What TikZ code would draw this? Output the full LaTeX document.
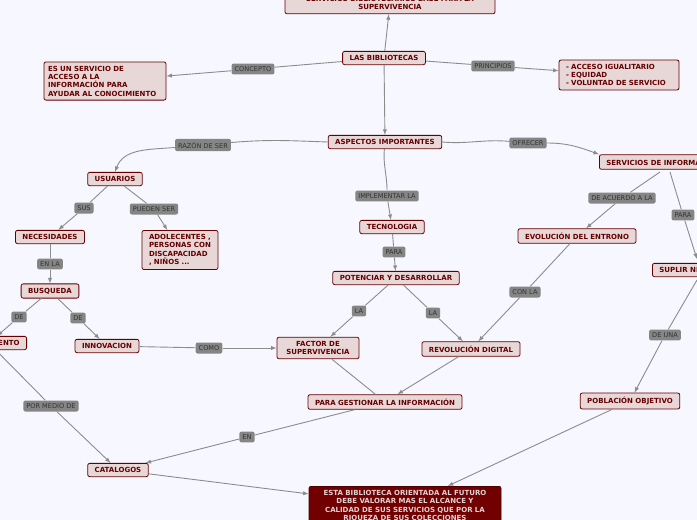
\documentclass[tikz,border=0pt]{standalone}
\usepackage{fontspec}
\setmainfont{DejaVu Sans}
\begin{document}
\begin{tikzpicture}[x=1pt,y=-1pt,
 box/.style={draw=red!40!black,line width=0.8pt,fill=red!25!gray!25,rounded corners=2pt,font=\bfseries\fontsize{7}{8.3}\selectfont,text=red!40!black,inner xsep=7pt,inner ysep=4pt,align=center},
 lab/.style={fill=black!48,rounded corners=2pt,font=\fontsize{6.6}{7.6}\selectfont,text=black!80,inner sep=3pt},
 ln/.style={draw=black!45,line width=0.9pt},
 ar/.style={ln,-latex}]
\fill[blue!3] (0,0) rectangle (697,520);
\clip (0,0) rectangle (697,520);
\useasboundingbox (0,0) rectangle (697,520);
% nodes
\node[box,text width=196pt] (top) at (390,3) {SERVICIOS BIBLIOTECARIOS BASE PARA LA\\SUPERVIVENCIA};
\node[box] (bib) at (384,58) {LAS BIBLIOTECAS};
\node[box,align=left,text width=114pt,inner xsep=4pt] (esun) at (105,81) {ES UN SERVICIO DE\\ACCESO A LA\\INFORMACIÓN PARA\\AYUDAR AL CONOCIMIENTO};
\node[box,align=left,text width=106pt] (acc) at (619,75) {- ACCESO IGUALITARIO\\- EQUIDAD\\- VOLUNTAD DE SERVICIO};
\node[box] (asp) at (385,142) {ASPECTOS IMPORTANTES};
\node[box,anchor=west] (sinf) at (599,162) {SERVICIOS DE INFORMACIÓN};
\node[box] (usu) at (115,179) {USUARIOS};
\node[box] (tec) at (392,227) {TECNOLOGIA};
\node[box] (evo) at (577,236) {EVOLUCIÓN DEL ENTRONO};
\node[box,anchor=west] (sup) at (652,270) {SUPLIR NECESIDADES};
\node[box] (nec) at (50,237) {NECESIDADES};
\node[box,align=left,text width=62pt] (ado) at (180,250) {ADOLECENTES ,\\PERSONAS CON\\DISCAPACIDAD\\, NIÑOS ...};
\node[box] (pot) at (396,278) {POTENCIAR Y DESARROLLAR};
\node[box] (bus) at (50,291) {BUSQUEDA};
\node[box,anchor=east] (con) at (27,343) {CONOCIMIENTO};
\node[box] (inn) at (107,346) {INNOVACION};
\node[box,text width=68pt] (fac) at (318,348) {FACTOR DE\\SUPERVIVENCIA};
\node[box] (rev) at (471,349) {REVOLUCIÓN DIGITAL};
\node[box] (pob) at (630,401) {POBLACIÓN OBJETIVO};
\node[box] (ges) at (385,402) {PARA GESTIONAR LA INFORMACIÓN};
\node[box] (cat) at (118,470) {CATALOGOS};
\node[box,fill=red!45!black,draw=red!30!black,text=red!15!gray!30,text width=178pt,anchor=north] (fin) at (405,486) {ESTA BIBLIOTECA ORIENTADA AL FUTURO\\DEBE VALORAR MAS EL ALCANCE Y\\CALIDAD DE SUS SERVICIOS QUE POR LA\\RIQUEZA DE SUS COLECCIONES};
% labels
\node[lab] (lconc) at (253,69) {CONCEPTO};
\node[lab] (lprin) at (493,66) {PRINCIPIOS};
\node[lab] (lraz) at (203,145) {RAZÓN DE SER};
\node[lab] (lofr) at (528,143) {OFRECER};
\node[lab] (lsus) at (84,208) {SUS};
\node[lab] (lpue) at (154,209) {PUEDEN SER};
\node[lab] (limp) at (387,196) {IMPLEMENTAR LA};
\node[lab] (lpara) at (394,252) {PARA};
\node[lab] (lacu) at (622,198) {DE ACUERDO A LA};
\node[lab] (lpara2) at (683,215) {PARA};
\node[lab] (lenla) at (50,264) {EN LA};
\node[lab] (lconla) at (525,292) {CON LA};
\node[lab] (lla1) at (359,311) {LA};
\node[lab] (lla2) at (433,313) {LA};
\node[lab] (lde1) at (19,317) {DE};
\node[lab] (lde2) at (78,318) {DE};
\node[lab] (lcomo) at (209,348) {COMO};
\node[lab] (ldeuna) at (665,335) {DE UNA};
\node[lab] (lmed) at (51,406) {POR MEDIO DE};
\node[lab] (len) at (247,437) {EN};
\coordinate (s1) at (660,172);
\coordinate (s2) at (670,172);
\coordinate (s3) at (697,259);
\coordinate (s4) at (697,280);
% connectors
\draw[ar] (bib) -- (top);
\draw[ar] (bib) -- (asp);
\draw[ln] (bib) -- (lconc); \draw[ar] (lconc) -- (esun);
\draw[ln] (bib) -- (lprin); \draw[ar] (lprin) -- (acc);
\draw[ln] (asp.west) to[out=178,in=5] (lraz); \draw[ar] (lraz) to[out=185,in=70] (usu.north);
\draw[ln] (asp.east) to[out=-5,in=175] (lofr); \draw[ar] (lofr) to[out=0,in=160] (sinf.north west);
\draw[ln] (asp) to[out=-95,in=90] (limp); \draw[ar] (limp) -- (tec);
\draw[ln] (usu) -- (lsus); \draw[ar] (lsus) -- (nec);
\draw[ln] (usu) -- (lpue); \draw[ar] (lpue) -- (ado);
\draw[ln] (tec) -- (lpara); \draw[ar] (lpara) -- (pot);
\draw[ln] (nec) -- (lenla); \draw[ar] (lenla) -- (bus);
\draw[ln] (bus) -- (lde1); \draw[ar] (lde1) -- (con);
\draw[ln] (bus) -- (lde2); \draw[ar] (lde2) -- (inn);
\draw[ln] (pot) -- (lla1); \draw[ar] (lla1) -- (fac);
\draw[ln] (pot) -- (lla2); \draw[ar] (lla2) -- (rev);
\draw[ln] (s1) -- (lacu); \draw[ar] (lacu) -- (evo);
\draw[ln] (s2) -- (lpara2); \draw[ar] (lpara2) -- (s3);
\draw[ln] (evo) -- (lconla); \draw[ar] (lconla) -- (rev);
\draw[ln] (s4) -- (ldeuna); \draw[ar] (ldeuna) -- (pob);
\draw[ln] (inn) -- (lcomo); \draw[ar] (lcomo) -- (fac);
\draw[ln] (con) -- (lmed); \draw[ar] (lmed) -- (cat);
\draw[ln] (fac) -- (ges);
\draw[ar] (rev) -- (ges);
\draw[ln] (ges) -- (len); \draw[ar] (len) -- (cat);
\draw[ar] (cat) -- (fin);
\draw[ar] (pob) -- (fin);
\end{tikzpicture}
\end{document}
